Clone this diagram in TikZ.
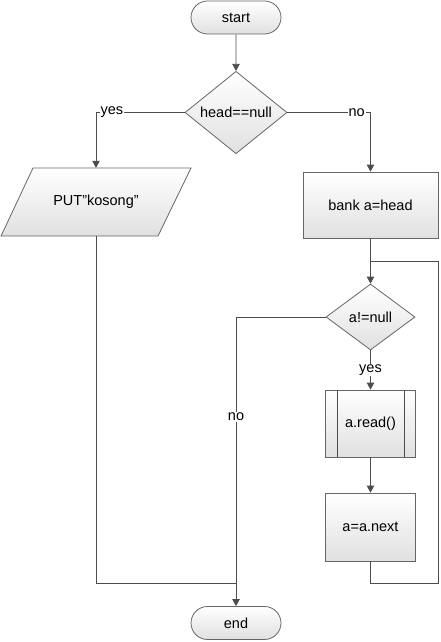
\documentclass[tikz,border=0pt]{standalone}
\usepackage{fontspec}
\setmainfont{Liberation Sans}
\usetikzlibrary{shapes.geometric,shapes.misc,arrows.meta}
\tikzset{
  base/.style={draw=black!60, line width=0.8pt, top color=white, bottom color=black!12, font=\fontsize{14.5}{17}\selectfont, inner sep=0pt},
  terminal/.style={base, rounded rectangle, minimum width=90pt, minimum height=33pt},
  decision/.style={base, diamond, minimum width=#1, minimum height=67pt},
  procbox/.style={base, rectangle, minimum width=90pt, minimum height=67pt},
  iotext/.style={rectangle, minimum width=158pt, minimum height=68pt, font=\fontsize{14.5}{17}\selectfont, inner sep=0pt},
  link/.style={draw=black!70, line width=0.8pt},
  arr/.style={link, -{Triangle[length=7pt,width=7.5pt]}},
  lbl/.style={fill=white, inner sep=1pt, font=\fontsize{14.5}{17}\selectfont}
}
\begin{document}
\begin{tikzpicture}[x=1pt,y=-1pt]
\useasboundingbox (0,0) rectangle (440,642);
\node[terminal] (start) at (236,17.5) {start};
\node[decision=102pt] (d1) at (236,112.5) {head==null};
% parallelogram
\path[base] (33,168) -- (191,168) -- (158,236) -- (1,236) -- cycle;
\node[iotext] (put) at (96,202) {PUT"kosong"};
\node[procbox, minimum width=135pt, minimum height=66pt] (bank) at (370.5,205) {bank a=head};
\node[decision=89pt, minimum height=66pt] (d2) at (370.5,317) {a!=null};
\node[procbox] (read) at (370.5,423.5) {a.read()};
\draw[link] ([xshift=12pt]read.north west) -- ([xshift=12pt]read.south west)
            ([xshift=-12pt]read.north east) -- ([xshift=-12pt]read.south east);
\node[procbox, minimum height=68pt] (next) at (370.5,527) {a=a.next};
\node[terminal] (end) at (236,623) {end};
\coordinate (j) at (370.5,261);
\coordinate (lb) at (438,583);
\coordinate (m) at (236,583);
\draw[arr] (start) -- (d1);
\draw[arr] (d1.west) -| node[lbl, pos=0.41] {yes} (put.north);
\draw[arr] (d1.east) -| node[lbl, pos=0.417] {no} (bank.north);
\draw[arr] (bank) -- (d2);
\draw[arr] (d2) -- node[lbl, pos=0.5] {yes} (read);
\draw[arr] (read) -- (next);
\draw[link] (next.south) |- (lb) |- (j);
\draw[arr] (d2.west) -| node[lbl, pos=0.673] {no} (end.north);
\draw[link] (put.south) |- (m);
\end{tikzpicture}
\end{document}
